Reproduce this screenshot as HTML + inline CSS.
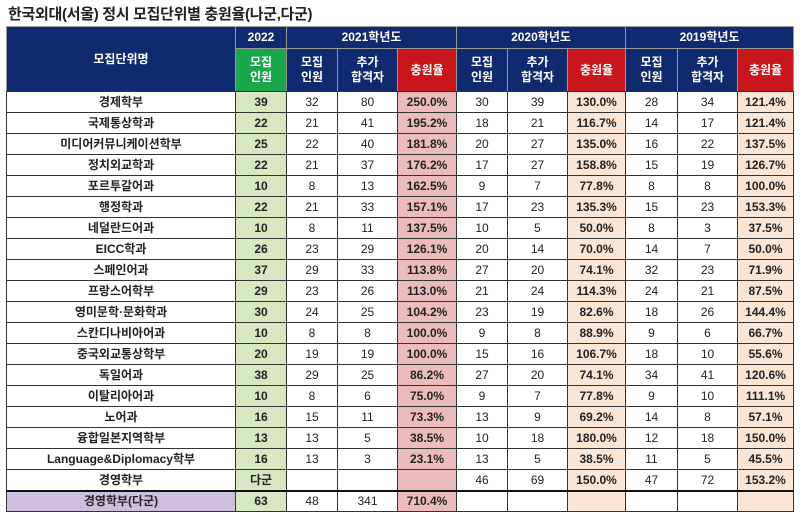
<!DOCTYPE html>
<html><head><meta charset="utf-8">
<style>
body{margin:0;background:#fff;width:800px;height:516px;overflow:hidden;font-family:"Liberation Sans","Noto Sans CJK KR","NanumGothic",sans-serif;}
#title{position:absolute;left:8px;top:3px;font-size:15px;font-weight:bold;color:#222;letter-spacing:-0.3px}
#tbl{position:absolute;left:0;top:0;width:800px;height:516px}
.c{position:absolute;box-sizing:border-box;border:1px solid #333;display:flex;align-items:center;justify-content:center;text-align:center;font-size:12px;color:#222;line-height:1.25}
.h{color:#fff;font-weight:bold;background:#0f2a6e;border-color:#999}
.b{font-weight:bold}
</style></head><body>
<div id="title">한국외대(서울) 정시 모집단위별 충원율(나군,다군)</div>
<div id="tbl"></div>
<script>
const names=["경제학부","국제통상학과","미디어커뮤니케이션학부","정치외교학과","포르투갈어과","행정학과","네덜란드어과","EICC학과","스페인어과","프랑스어학부","영미문학·문화학과","스칸디나비아어과","중국외교통상학부","독일어과","이탈리아어과","노어과","융합일본지역학부","Language&Diplomacy학부","경영학부","경영학부(다군)"];
const quota2022=["39","22","25","22","10","22","10","26","37","29","30","10","20","38","10","16","13","16","다군","63"];
const q2021=["32","21","22","21","8","21","8","23","29","23","24","8","19","29","8","15","13","13","","48"];
const a2021=["80","41","40","37","13","33","11","29","33","26","25","8","19","25","6","11","5","3","","341"];
const r2021=["250.0%","195.2%","181.8%","176.2%","162.5%","157.1%","137.5%","126.1%","113.8%","113.0%","104.2%","100.0%","100.0%","86.2%","75.0%","73.3%","38.5%","23.1%","","710.4%"];
const q2020=["30","18","20","17","9","17","10","20","27","21","23","9","15","27","9","13","10","13","46",""];
const a2020=["39","21","27","27","7","23","5","14","20","24","19","8","16","20","7","9","18","5","69",""];
const r2020=["130.0%","116.7%","135.0%","158.8%","77.8%","135.3%","50.0%","70.0%","74.1%","114.3%","82.6%","88.9%","106.7%","74.1%","77.8%","69.2%","180.0%","38.5%","150.0%",""];
const q2019=["28","14","16","15","8","15","8","14","32","24","18","9","18","34","9","14","12","11","47",""];
const a2019=["34","17","22","19","8","23","3","7","23","21","26","6","10","41","10","8","18","5","72",""];
const r2019=["121.4%","121.4%","137.5%","126.7%","100.0%","153.3%","37.5%","50.0%","71.9%","87.5%","144.4%","66.7%","55.6%","120.6%","111.1%","57.1%","150.0%","45.5%","153.2%",""];

const X=[6,235,286,337,397,456,507,567,625,677,737,793];
const T=26,H1=48,H2=91,RH=21;
const root=document.getElementById('tbl');
function cell(x1,x2,y1,y2,txt,cls,bg,name){
  const d=document.createElement('div');
  d.className='c '+(cls||'');
  d.style.left=x1+'px';d.style.top=y1+'px';
  d.style.width=(x2-x1+1)+'px';d.style.height=(y2-y1+1)+'px';
  if(bg)d.style.background=bg;
  d.innerHTML=txt;
  
  
  root.appendChild(d);
}
cell(X[0],X[1],T,H2,'모집단위명','h',null,'header-unit-name');
cell(X[1],X[2],T,H1,'2022','h',null,'header-2022');
cell(X[2],X[5],T,H1,'2021학년도','h',null,'header-2021');
cell(X[5],X[8],T,H1,'2020학년도','h',null,'header-2020');
cell(X[8],X[11],T,H1,'2019학년도','h',null,'header-2019');
cell(X[1],X[2],H1,H2,'모집<br>인원','h','#1aa64a','header-2022-quota');
for(let g=0;g<3;g++){
  const b=2+g*3;
  cell(X[b],X[b+1],H1,H2,'모집<br>인원','h',null,'header-quota');
  cell(X[b+1],X[b+2],H1,H2,'추가<br>합격자','h',null,'header-additional');
  cell(X[b+2],X[b+3],H1,H2,'충원율','h','#c8161d','header-fill-rate');
}
names.forEach((n,i)=>{
  const y1=H2+i*RH,y2=y1+RH;
  const last=i===names.length-1;
  cell(X[0],X[1],y1,y2,n,'b',last?'#cdc0de':'#fff','row-name');
  cell(X[1],X[2],y1,y2,quota2022[i],'b','#d8e6c2','quota-2022');
  cell(X[2],X[3],y1,y2,q2021[i],'','#fff','quota-2021');
  cell(X[3],X[4],y1,y2,a2021[i],'','#fff','additional-2021');
  cell(X[4],X[5],y1,y2,r2021[i],'b','#ecbcbc','fill-rate-2021');
  cell(X[5],X[6],y1,y2,q2020[i],'','#fff','quota-2020');
  cell(X[6],X[7],y1,y2,a2020[i],'','#fff','additional-2020');
  cell(X[7],X[8],y1,y2,r2020[i],'b','#fbe5d5','fill-rate-2020');
  cell(X[8],X[9],y1,y2,q2019[i],'','#fff','quota-2019');
  cell(X[9],X[10],y1,y2,a2019[i],'','#fff','additional-2019');
  cell(X[10],X[11],y1,y2,r2019[i],'b','#fbe5d5','fill-rate-2019');
});
const line=document.createElement('div');
line.style.cssText='position:absolute;left:6px;width:788px;height:2px;background:#111;top:'+(H2+19*RH)+'px';


root.appendChild(line);
</script>
</body></html>
